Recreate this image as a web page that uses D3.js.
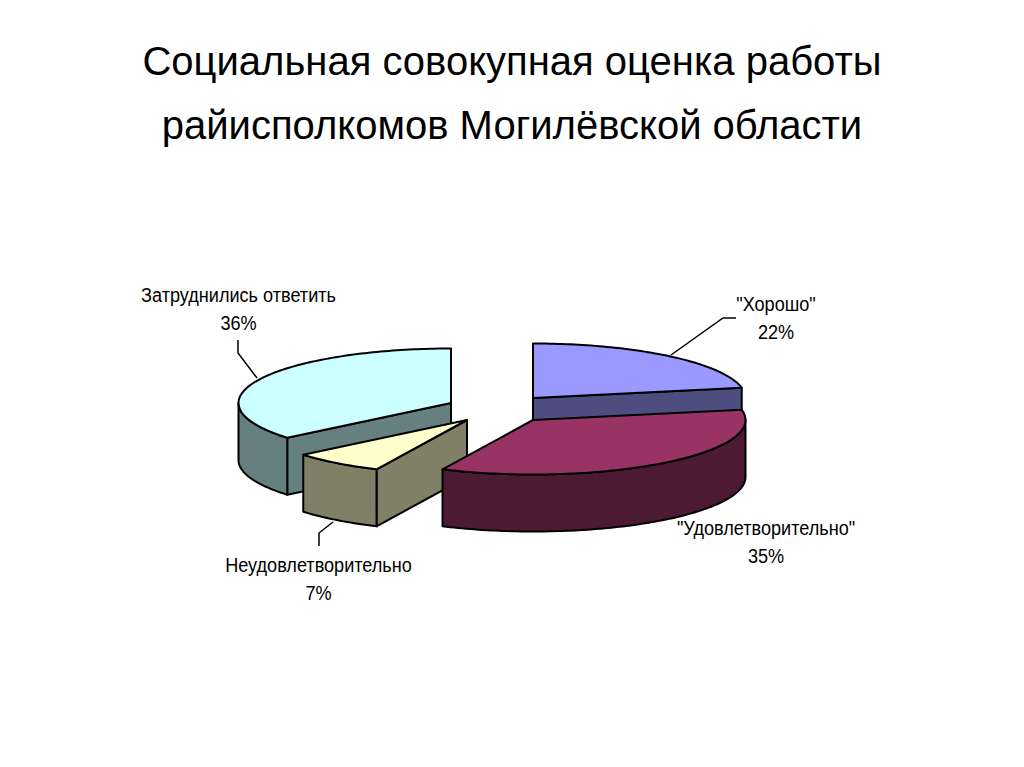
<!DOCTYPE html>
<html>
<head>
<meta charset="utf-8">
<script src="https://cdn.jsdelivr.net/npm/d3@7"></script>
<style>
  html, body { margin: 0; padding: 0; background: #fff; }
  text { font-family: "Liberation Sans", Arial, sans-serif; fill: #000; }
</style>
</head>
<body>
<div id="chart"></div>
<script>
const titleLines = ["Социальная совокупная оценка работы", "райисполкомов Могилёвской области"];
const categories = ['"Хорошо"', '"Удовлетворительно"', "Неудовлетворительно", "Затруднились ответить"];
const percents = [22, 35, 7, 36];
const topColors = ["#9999ff", "#993366", "#ffffcc", "#ccffff"];
const wallColors = ["#4d4d80", "#4d1a33", "#808066", "#668080"];

const width = 1024;
const height = 767;

// ellipse radii and thickness of the tilted pie
const rx = 212.5;
const ry = 54.5;
const depth = 57;

// where each exploded slice has its apex
const apexX = [533, 533, 467, 451];
const apexY = [398, 420, 420, 403];

// label anchors and leader lines, same order as categories
const labelX = [776, 766, 318.5, 238.5];
const labelY = [311, 535, 572, 302];
const leaders = [
  [[671, 355], [723, 318], [736, 318]],
  [],
  [[333, 522], [319, 533], [319, 546]],
  [[257, 378], [238, 353], [238, 340]]
];

const svg = d3.select("#chart")
  .append("svg")
  .attr("width", width)
  .attr("height", height)
  .style("display", "block");

svg.selectAll(".title")
  .data(titleLines)
  .join("text")
  .attr("class", "title")
  .attr("x", 512)
  .attr("y", (d, i) => 75 + i * 64)
  .attr("text-anchor", "middle")
  .attr("font-size", 40)
  .text(d => d);

const pie = d3.pie().sort(null).startAngle(0).endAngle(2 * Math.PI);
const arcs = pie(percents);

// unit circle to pixels
const sx = d3.scaleLinear().domain([-1, 1]).range([-rx, rx]);
const sy = d3.scaleLinear().domain([-1, 1]).range([-ry, ry]);

const rimPoints = (a0, a1) => {
  const n = Math.max(2, Math.ceil((a1 - a0) / 0.02));
  return d3.range(n + 1).map(i => {
    const a = a0 + (a1 - a0) * i / n;
    return [sx(Math.sin(a)), sy(-Math.cos(a))];
  });
};

const line = d3.line();
const outline = pts => line(pts) + "Z";
const drop = pts => pts.map(p => [p[0], p[1] + depth]);

// back slices first so the near ones cover them
const drawOrder = [3, 2, 0, 1];

drawOrder.forEach(i => {
  const d = arcs[i];
  const g = svg.append("g")
    .attr("transform", `translate(${apexX[i]},${apexY[i]})`)
    .attr("stroke", "#000")
    .attr("stroke-width", 2)
    .attr("stroke-linejoin", "round");

  const faces = [];
  // cut faces, only those turned to the viewer
  if (Math.sin(d.startAngle) < -1e-6) faces.push(d.startAngle);
  if (Math.sin(d.endAngle) > 1e-6) faces.push(d.endAngle);
  faces.forEach(a => {
    const edge = [[0, 0], [sx(Math.sin(a)), sy(-Math.cos(a))]];
    g.append("path")
      .attr("d", outline(edge.concat(drop(edge).reverse())))
      .attr("fill", wallColors[i]);
  });

  // outer wall, front half of the rim only
  const w0 = Math.max(d.startAngle, Math.PI / 2);
  const w1 = Math.min(d.endAngle, 3 * Math.PI / 2);
  if (w1 > w0) {
    const rim = rimPoints(w0, w1);
    g.append("path")
      .attr("d", outline(rim.concat(drop(rim).reverse())))
      .attr("fill", wallColors[i]);
  }

  g.append("path")
    .attr("d", outline([[0, 0]].concat(rimPoints(d.startAngle, d.endAngle))))
    .attr("fill", topColors[i]);
});

svg.selectAll(".leader")
  .data(leaders.filter(d => d.length))
  .join("path")
  .attr("class", "leader")
  .attr("d", d => line(d))
  .attr("fill", "none")
  .attr("stroke", "#000")
  .attr("stroke-width", 1.5);

// the labels in the picture are condensed
const labels = svg.selectAll(".label")
  .data(categories)
  .join("text")
  .attr("class", "label")
  .attr("text-anchor", "middle")
  .attr("font-size", 20)
  .attr("transform", (d, i) => `translate(${labelX[i]},0) scale(0.905,1)`);

labels.append("tspan")
  .attr("x", 0)
  .attr("y", (d, i) => labelY[i])
  .text(d => d);

labels.append("tspan")
  .attr("x", 0)
  .attr("y", (d, i) => labelY[i] + 28)
  .text((d, i) => percents[i] + "%");
</script>
</body>
</html>
